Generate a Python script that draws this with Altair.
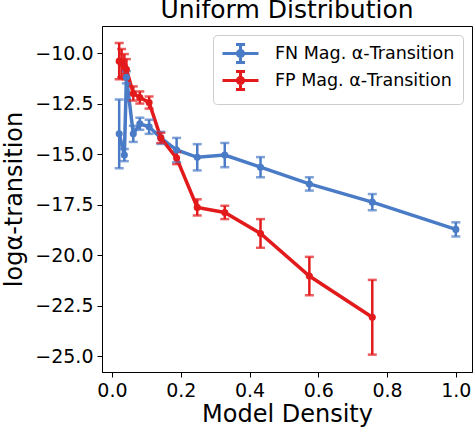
import altair as alt
import pandas as pd

# Model density (fraction of weights kept) for each pruning level
fn_density = [0.021, 0.036, 0.042, 0.062, 0.081, 0.108, 0.142, 0.188,
              0.248, 0.328, 0.432, 0.574, 0.757, 1.0]
fn_mean = [-14.0, -15.05, -11.2, -14.0, -13.5, -13.65, -14.2, -14.8,
           -15.16, -15.05, -15.65, -16.48, -17.38, -18.73]
fn_err = [1.7, 0.3, 0.3, 0.4, 0.3, 0.35, 0.3, 0.6,
          0.65, 0.6, 0.5, 0.33, 0.4, 0.35]

fp_density = [0.021, 0.028, 0.036, 0.042, 0.062, 0.081, 0.108, 0.142,
              0.188, 0.248, 0.328, 0.432, 0.574, 0.757]
fp_mean = [-10.4, -10.5, -10.65, -10.8, -12.0, -12.2, -12.45, -14.2,
           -15.2, -17.64, -17.89, -18.93, -21.04, -23.08]
fp_err = [0.9, 0.7, 0.6, 0.5, 0.35, 0.3, 0.3, 0.25,
          0.3, 0.4, 0.33, 0.71, 0.95, 1.85]

series = ["FN Mag. α-Transition", "FP Mag. α-Transition"]
colors = ["#4a7bc6", "#e31a1c"]

x_ticks = [0.0, 0.2, 0.4, 0.6, 0.8, 1.0]
y_ticks = [-25.0, -22.5, -20.0, -17.5, -15.0, -12.5, -10.0]

frames = []
for name, xs, ys, es in [(series[0], fn_density, fn_mean, fn_err),
                         (series[1], fp_density, fp_mean, fp_err)]:
    frames.append(pd.DataFrame({"series": name, "density": xs,
                                "value": ys, "err": es}))
df = pd.concat(frames, ignore_index=True)
df["lo"] = df["value"] - df["err"]
df["hi"] = df["value"] + df["err"]

font = "DejaVu Sans"

# Legend glyph (stroked only): horizontal line, capped error bar, and a dot
# built from concentric rings so it reads as a filled marker. The glyph is
# drawn wider than the nominal symbol box so rows stay compact.
glyph = ("M-1,0H3M1,-1V1M0.5,-1H1.5M0.5,1H1.5"
         "M1.34,0A0.34,0.34,0,1,1,0.66,0A0.34,0.34,0,1,1,1.34,0Z"
         "M1.18,0A0.18,0.18,0,1,1,0.82,0A0.18,0.18,0,1,1,1.18,0Z"
         "M1.04,0A0.04,0.04,0,1,1,0.96,0A0.04,0.04,0,1,1,1.04,0Z")

x_scale = alt.Scale(domain=[-0.029, 1.047], nice=False, zero=False)
y_scale = alt.Scale(domain=[-25.79, -8.66], nice=False, zero=False)
c_scale = alt.Scale(domain=series, range=colors)

x_enc = alt.X("density:Q", scale=x_scale,
              axis=alt.Axis(values=x_ticks, format=".1f", title="Model Density",
                            labelPadding=4, titlePadding=2))
y_enc = alt.Y("value:Q", scale=y_scale,
              axis=alt.Axis(values=y_ticks, format=".1f", title="logα-transition",
                            labelPadding=4, titlePadding=8))
col = alt.Color("series:N", scale=c_scale, legend=None)

legend = alt.Legend(
    title=None, orient="top-right", offset=9,
    symbolType=glyph, symbolSize=324, symbolStrokeWidth=3,
    labelFontSize=17.5, labelFont=font, labelColor="black", labelOffset=33,
    labelLimit=400, padding=8, strokeColor="#cccccc", cornerRadius=4,
    fillColor="white", rowPadding=-4,
)

base = alt.Chart(df)

lines = base.mark_line(strokeWidth=3.5).encode(
    x=x_enc, y=y_enc,
    color=alt.Color("series:N", scale=c_scale, legend=legend),
    order="density:Q",
)
bars = base.mark_rule(strokeWidth=2.5).encode(
    x=alt.X("density:Q", scale=x_scale),
    y=alt.Y("lo:Q", scale=y_scale),
    y2="hi:Q",
    color=col,
)
caps_lo = base.mark_tick(orient="horizontal", size=9, thickness=2.5).encode(
    x=alt.X("density:Q", scale=x_scale),
    y=alt.Y("lo:Q", scale=y_scale),
    color=col,
)
caps_hi = base.mark_tick(orient="horizontal", size=9, thickness=2.5).encode(
    x=alt.X("density:Q", scale=x_scale),
    y=alt.Y("hi:Q", scale=y_scale),
    color=col,
)
dots = base.mark_circle(size=50, opacity=1).encode(
    x=alt.X("density:Q", scale=x_scale),
    y=alt.Y("value:Q", scale=y_scale),
    color=col,
)

chart = alt.layer(lines, bars, caps_lo, caps_hi, dots).properties(
    width=370, height=346,
    title=alt.TitleParams("Uniform Distribution", fontSize=25, font=font,
                          fontWeight="normal", color="black", offset=3),
    autosize=alt.AutoSizeParams(type="none"),
    padding={"left": 102, "top": 26, "right": 2, "bottom": 56},
    background="white",
).configure_axis(
    labelFont=font, labelFontSize=19, labelColor="black",
    titleFont=font, titleFontSize=24, titleFontWeight="normal", titleColor="black",
    domainColor="black", tickColor="black", tickSize=5, grid=False,
).configure_view(
    stroke="black", strokeWidth=1,
)

chart.save("out.html", embed_options={"renderer": "svg", "actions": False})
